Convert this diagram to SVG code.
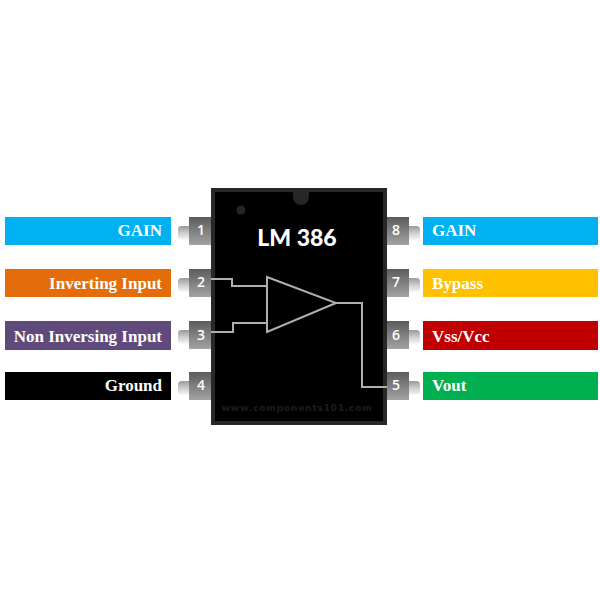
<svg xmlns="http://www.w3.org/2000/svg" width="600" height="600" viewBox="0 0 600 600">
<style>
.lab{font-family:"Liberation Serif",serif;font-weight:bold;font-size:17px;fill:#fff}
.e{text-anchor:end}
.num{font-family:"Open Sans","Noto Sans",sans-serif;font-size:14px;font-weight:600;fill:#fff;text-anchor:middle}
.w{fill:none;stroke:#b0afa8;stroke-width:2}
</style>
<defs>
<linearGradient id="pad" x1="0" y1="0" x2="0" y2="1"><stop offset="0" stop-color="#5c5c5c"/><stop offset="1" stop-color="#a3a3a3"/></linearGradient>
<linearGradient id="lead" x1="0" y1="0" x2="0" y2="1"><stop offset="0" stop-color="#9a9a9a"/><stop offset=".55" stop-color="#d0d0d0"/><stop offset="1" stop-color="#f2f2f2"/></linearGradient>
<g id="pinL"><rect x="178" y="-5" width="16" height="13.500" rx="3.500" fill="url(#lead)"/><rect x="189" y="-14" width="22" height="28" fill="url(#pad)"/></g>
<g id="pinR"><rect x="404" y="-5" width="16" height="13.500" rx="3.500" fill="url(#lead)"/><rect x="387" y="-14" width="22" height="28" fill="url(#pad)"/></g>
</defs>
<rect width="600" height="600" fill="#fff"/>
<g id="chip">
<rect x="213" y="190" width="172" height="233" fill="#000" stroke="#282828" stroke-width="4"/>
<path d="M293 192h16v5a8 8 0 0 1-16 0z" fill="#272727"/>
<circle cx="241" cy="210" r="4.500" fill="#252525"/>
<text x="297" y="245.500" font-family="Lato,'Open Sans',sans-serif" font-size="23" font-weight="900" fill="#fff" text-anchor="middle">LM 386</text>
<text x="297" y="411" font-family="'DejaVu Sans',sans-serif" font-size="9.500" font-weight="700" letter-spacing=".5" fill="#1c1c1c" text-anchor="middle">www.components101.com</text>
</g>
<g id="pin1"><use href="#pinL" y="231"/><text class="num" x="201" y="234.500">1</text></g>
<g id="pin2"><use href="#pinL" y="283"/><text class="num" x="201" y="286.500">2</text></g>
<g id="pin3"><use href="#pinL" y="335"/><text class="num" x="201" y="339.500">3</text></g>
<g id="pin4"><use href="#pinL" y="386"/><text class="num" x="201" y="389.500">4</text></g>
<g id="pin8"><use href="#pinR" y="231"/><text class="num" x="396" y="234.500">8</text></g>
<g id="pin7"><use href="#pinR" y="283"/><text class="num" x="396" y="286.500">7</text></g>
<g id="pin6"><use href="#pinR" y="335"/><text class="num" x="396" y="339.500">6</text></g>
<g id="pin5"><use href="#pinR" y="386"/><text class="num" x="396" y="389.500">5</text></g>
<g id="label-1"><rect x="5" y="217" width="166" height="28" fill="#00b0f0"/><text class="lab e" x="162" y="235.500">GAIN</text></g>
<g id="label-2"><rect x="5" y="269" width="166" height="28" fill="#e46c0a"/><text class="lab e" x="162" y="288.500">Inverting Input</text></g>
<g id="label-3"><rect x="5" y="321" width="166" height="29" fill="#604a7b"/><text class="lab e" x="162" y="341.500">Non Inversing Input</text></g>
<g id="label-4"><rect x="5" y="372" width="166" height="28" fill="#000"/><text class="lab e" x="162" y="390.500">Ground</text></g>
<g id="label-8"><rect x="423" y="217" width="175" height="28" fill="#00b0f0"/><text class="lab" x="432" y="235.500">GAIN</text></g>
<g id="label-7"><rect x="423" y="269" width="175" height="28" fill="#ffc000"/><text class="lab" x="432" y="288.500">Bypass</text></g>
<g id="label-6"><rect x="423" y="321" width="175" height="29" fill="#c00000"/><text class="lab" x="432" y="341.500">Vss/Vcc</text></g>
<g id="label-5"><rect x="423" y="372" width="175" height="28" fill="#00b050"/><text class="lab" x="432" y="390.500">Vout</text></g>
<g id="opamp"><path class="w" d="M267 277V332L336 303Z"/></g>
<g id="connectors">
<path class="w" d="M211 279H232V286H267"/>
<path class="w" d="M211 332H233V323H267"/>
<path class="w" d="M336 303H362V387H387"/>
</g>
</svg>
